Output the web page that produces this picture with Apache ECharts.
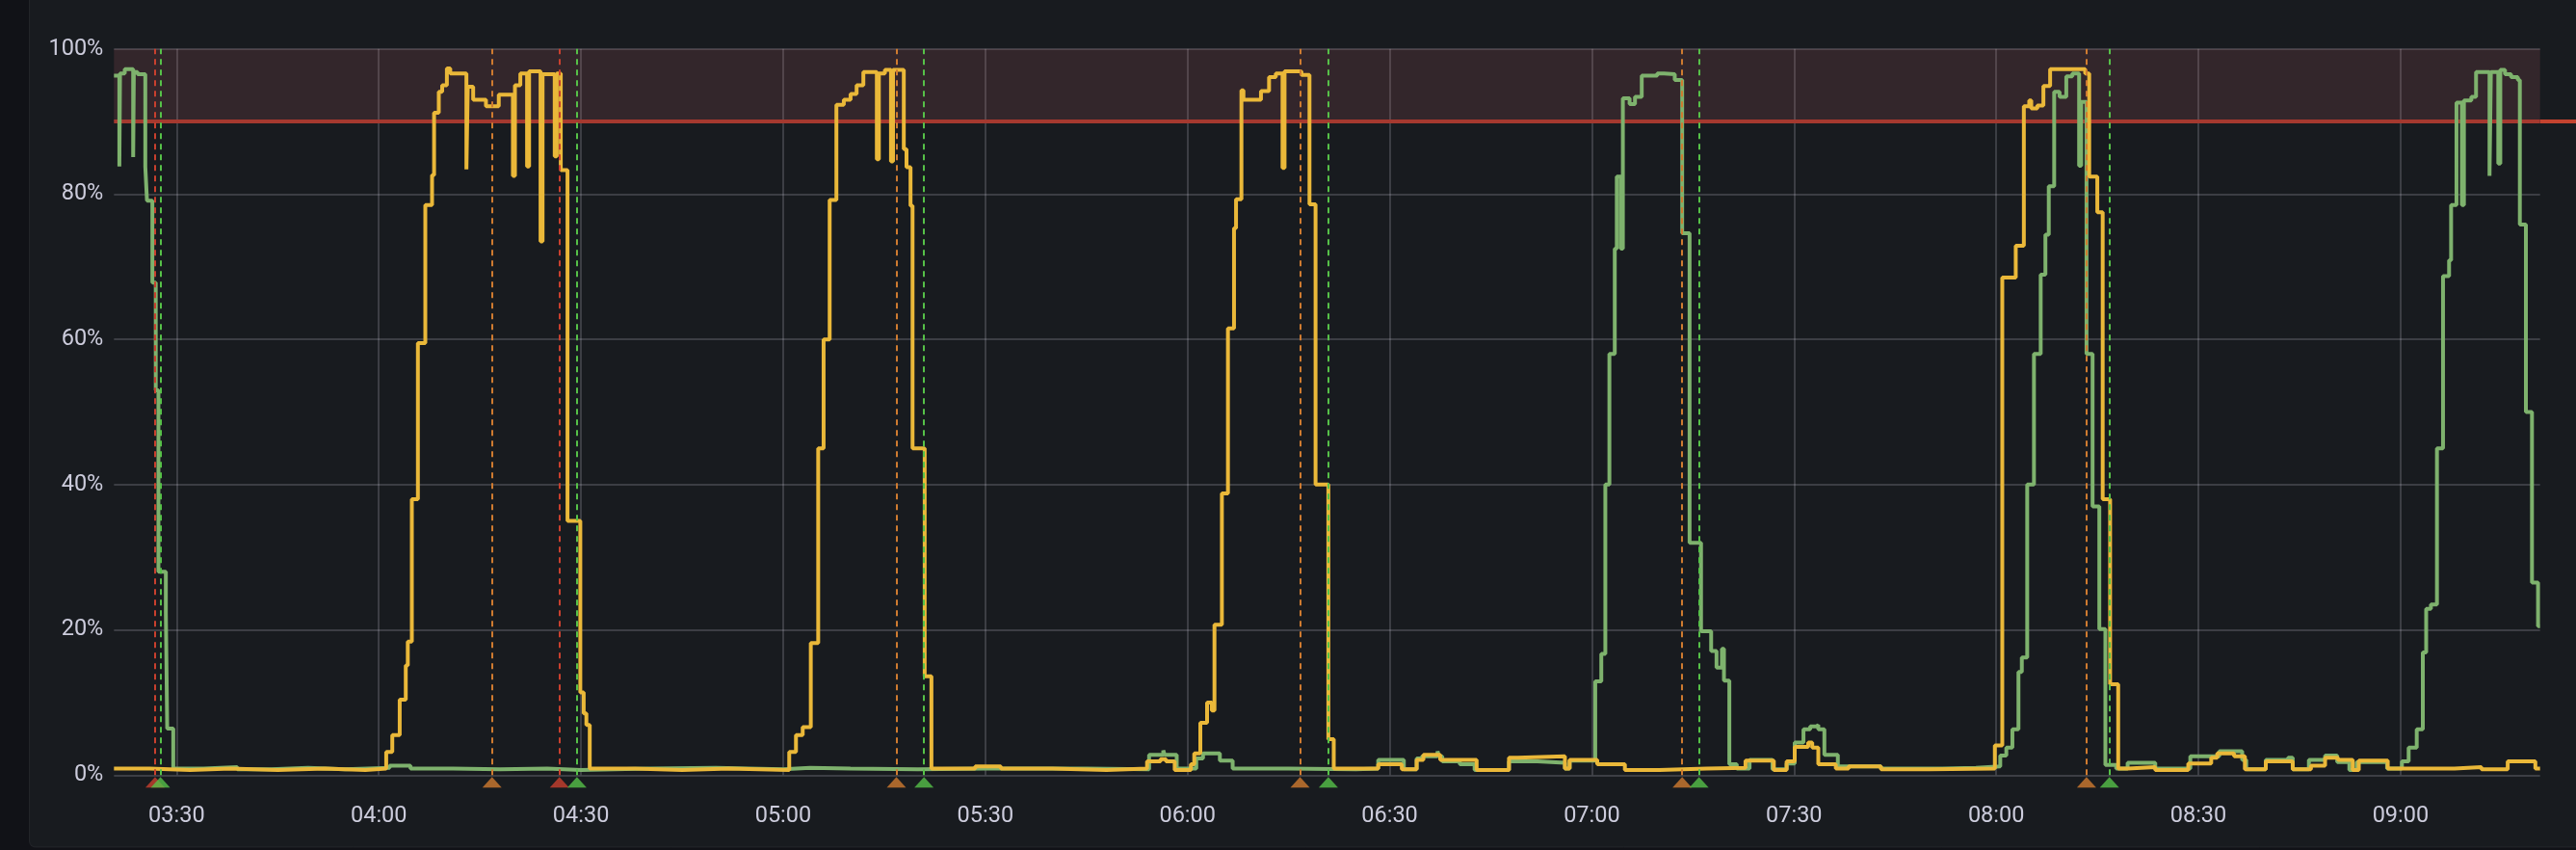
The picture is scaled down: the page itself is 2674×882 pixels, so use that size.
<!DOCTYPE html>
<html><head><meta charset="utf-8">
<script src="https://cdn.jsdelivr.net/npm/echarts@6/dist/echarts.min.js"></script>
<style>html,body{margin:0;padding:0;background:#111217;}#c{width:2674px;height:882px;}</style>
</head><body><div id="c"></div>
<script>
// ---- axis range (minutes since midnight) ----
const timeStart = 200.7;   // ~03:20:40
const timeEnd = 560.7;     // ~09:20:40
const yMin = 0, yMax = 100, yStep = 20;
const threshold = 90;

// ---- green series (staircase breakpoints) ----
const greenTimes = [200.7,201.5,201.6,202.3,203.55,203.65,204.2,205.35,205.6,206.4,206.9,207.3,208.4,208.6,209.5,
 214,219,224,229.5,235,241.6,244.7,251,258,265,270,280,290,300,304,310,320,330,345,
 354.3,356.4,356.6,358.4,361.3,362.3,364.8,366.7,375,385,
 388.3,392.1,394,394.8,397.1,397.3,397.8,400.4,402.6,407.7,411.9,416,416.7,
 420.5,421.4,422,422.6,423.4,423.7,424.3,424.6,425.6,426.4,427.4,429.7,430.7,432.3,433.4,434.5,436.2,437.7,438.5,439.3,439.6,440.4,441.5,
 443.4,446.8,448.9,450.1,451.4,452.4,453.3,453.6,454.5,456.5,462.9,472,477,
 480.6,481.5,482.4,483.3,483.8,484.6,485.6,486.6,487.3,487.8,488.6,489.4,490.4,491.3,492.3,492.6,493.4,494.3,495.3,496.2,497.8,
 499.5,503.6,508.8,513.1,516.5,517.1,520,523.3,524,526.4,528.8,530.6,532.4,533.5,538,
 540.2,541.2,542.4,543.3,543.8,544.5,545.4,546.3,547.2,547.5,548.3,549.1,549.4,550.5,551.2,553.2,553.4,554.5,554.8,555.5,556.4,557.4,557.7,558.6,559.5,560.4,560.7];
const greenValues = [96.3,83.8,96.6,97.2,85.1,96.8,96.5,83.8,79.1,67.8,53,28,22.4,6.4,0.9,
 1.1,0.8,1.0,0.8,1.0,1.3,0.9,0.8,0.9,0.7,0.9,1.0,0.8,1.0,0.9,0.8,0.9,0.9,0.8,
 2.8,3.4,2.8,0.9,2.3,3.0,2.0,0.9,0.8,0.9,
 2.1,0.8,2.3,2.6,3.3,2.6,1.9,1.5,0.7,1.9,1.7,0.9,2.0,
 12.9,16.7,40,58,72.5,82.4,72.5,93.2,92.4,93.4,96.3,96.6,96.5,95.7,74.6,32,19.8,17.1,14.8,17.4,13.0,1.5,0.9,
 2.1,0.8,1.6,4.5,6.3,6.7,6.9,6.3,2.8,1.2,0.9,1.0,1.2,
 2.7,3.8,6.3,14.2,16.2,40,58,68.9,74.4,81.1,94.1,93.4,96.2,96.6,83.9,92.7,58,37,20.1,1.4,0.9,
 1.7,0.9,2.6,3.3,2.1,0.8,2.1,2.4,0.8,2.1,2.7,1.8,0.7,1.8,0.9,
 1.9,3.8,6.3,16.9,22.9,23.5,45,68.7,70.9,78.5,92.6,78.5,92.9,93.4,96.8,82.5,96.8,84.2,97.1,96.5,96.1,95.7,75.8,50,26.5,20.5,20.5];

// ---- yellow series (staircase breakpoints) ----
const yellowTimes = [200.7,206,212,218,225,232,238,
 241.1,242,243.1,244,244.3,244.9,245.8,246.9,247.9,248.2,248.9,249.4,250.1,250.6,253,253.2,254,255.9,257.8,259.9,260.2,261,262,262.3,264,264.3,266.1,266.4,267,268,269.9,270.4,270.8,271.3,
 278,285,292,
 300.9,301.9,302.9,304.1,305.2,306,306.9,307.9,309,310,310.9,311.9,313.9,314.2,315.1,316,316.3,317.9,318.3,318.9,319.2,321,322,
 328.5,332.3,340,348,354,356,356.8,358.1,
 360.5,361,361.9,362.9,363.6,364,365.1,366,366.9,367.2,368,368.3,370.9,372.1,373.1,374.1,374.4,376.9,378.1,379,380.9,381.7,
 388.3,391.8,394,395,397.5,402.9,407.7,409,416,416.7,420.8,424.9,430,437,442.8,447,448.9,450.1,452.1,452.7,453.6,456.2,458.1,462.9,470,
 479.8,480.9,482.9,484.1,484.9,485.2,486.1,487,488,493.2,493.8,495,495.8,496.9,498.1,
 499.5,503.6,508.5,511.9,512.8,515.3,516.9,520,524,526.7,528.8,530.7,532.9,533.8,538.1,548,552,555.9,560,560.7];
const yellowValues = [0.9,0.7,0.9,0.7,0.9,0.7,0.9,
 3.2,5.5,10.4,15.1,18.4,38,59.5,78.5,82.6,91.2,94.1,95.0,97.3,96.6,83.4,94.8,93.0,92.1,93.7,82.5,95.0,96.6,83.8,96.9,73.5,96.5,85.2,96.6,83.3,35,11.4,8.5,6.9,0.9,
 0.7,0.9,0.7,
 3.2,5.5,6.6,18.2,45,60,79.2,92.3,93.0,93.8,95.0,96.8,84.8,96.6,97.1,84.5,97.1,86.2,83.7,78.4,45,13.6,0.9,
 1.2,0.9,0.7,0.9,1.9,2.2,1.9,0.7,
 1.5,3.0,7.2,10.0,8.9,20.7,38.8,61.5,75.3,79.3,94.3,93.0,94.2,96.1,96.6,83.6,96.9,96.4,78.6,40,4.95,0.9,
 1.5,0.8,2.1,2.8,2.1,0.7,2.4,2.6,0.9,2.1,1.5,0.7,0.9,1.0,2.0,0.7,1.9,3.9,4.5,3.8,1.5,0.9,1.2,0.8,0.9,
 4.1,68.5,72.9,92.1,92.9,91.8,92.2,94.9,97.2,96.6,82.4,77.5,38,12.5,0.9,
 1.1,0.7,1.6,2.4,3.0,2.6,0.8,1.9,0.8,1.3,2.4,2.1,0.7,2.0,0.9,1.1,0.8,1.9,0.9,0.9];

// ---- alert annotations (minutes since midnight) ----
const alertingTimes = [206.8, 266.8];
const pendingTimes = [256.8, 316.8, 376.7, 433.4, 493.4];
const okTimes = [207.6, 269.4, 320.9, 380.9, 435.9, 496.8];

const C = {
  bg: '#181b1f', outer: '#111217', text: '#ccccdc', grid: 'rgba(204,204,220,0.2)',
  green: '#7eb26d', yellow: '#eab839',
  red: '#c9402e', pend: '#cf7b30', ok: '#56c148',
  band: 'rgba(249,120,132,0.12)', thr: '#a5392f', thrOut: '#c4432f'
};
const pad = n => (n < 10 ? '0' : '') + n;
const zip = (ts, vs) => ts.map((t, i) => [t, vs[i]]);

const chart = echarts.init(document.getElementById('c'), null, {renderer: 'canvas'});

function annoSeries(name, times, color) {
  return {
    name, type: 'scatter', z: 6, clip: false, silent: true,
    symbol: 'triangle', symbolSize: [20, 11], symbolOffset: [0, 7.5],
    itemStyle: {color}, data: times.map(t => [t, 0]),
    markLine: {
      silent: true, symbol: 'none', label: {show: false},
      lineStyle: {color, type: [6, 5], width: 2},
      emphasis: {disabled: true},
      data: times.map(t => ({xAxis: t}))
    }
  };
}

chart.setOption({
  animation: false,
  backgroundColor: C.outer,
  textStyle: {fontFamily: 'Roboto'},
  graphic: [{
    type: 'rect', z: -100, silent: true,
    shape: {x: 30.5, y: -20, width: 2700, height: 899, r: 6},
    style: {fill: C.bg, stroke: 'rgba(204,204,220,0.08)', lineWidth: 1}
  }],
  grid: {left: 118.3, right: 37.3, top: 50.7, bottom: 77.7, containLabel: false},
  xAxis: {
    type: 'value', min: timeStart, max: timeEnd, splitNumber: 12,
    axisLine: {show: false}, axisTick: {show: false},
    axisLabel: {
      color: C.text, fontSize: 23.5, fontFamily: 'Roboto', margin: 31,
      formatter: v => {
        const r = Math.round(v);
        if (Math.abs(v - r) > 0.01 || r % 30 !== 0) return '';
        return pad(Math.floor(r / 60)) + ':' + pad(r % 60);
      }
    },
    splitLine: {show: true, showMinLine: false, showMaxLine: false, lineStyle: {color: C.grid, width: 2}}
  },
  yAxis: {
    type: 'value', min: yMin, max: yMax, interval: yStep,
    axisLine: {show: false}, axisTick: {show: false},
    axisLabel: {color: C.text, fontSize: 23.5, fontFamily: 'Roboto', margin: 11, formatter: '{value}%'},
    splitLine: {show: true, lineStyle: {color: C.grid, width: 2}}
  },
  series: [
    {
      name: 'green', type: 'line', step: 'end', showSymbol: false, z: 3,
      lineStyle: {color: C.green, width: 4}, itemStyle: {color: C.green},
      data: zip(greenTimes, greenValues),
      markArea: {silent: true, itemStyle: {color: C.band}, data: [[{yAxis: threshold}, {yAxis: yMax}]]},
      markLine: {silent: true, symbol: 'none', label: {show: false}, z: 1,
        lineStyle: {color: C.thr, width: 4, type: 'solid'}, data: [{yAxis: threshold}]}
    },
    {
      name: 'yellow', type: 'line', step: 'end', showSymbol: false, z: 4,
      lineStyle: {color: C.yellow, width: 4}, itemStyle: {color: C.yellow},
      data: zip(yellowTimes, yellowValues)
    },
    annoSeries('alerting', alertingTimes, C.red),
    annoSeries('pending', pendingTimes, C.pend),
    annoSeries('ok', okTimes, C.ok)
  ]
});

// extend threshold line to the panel edge, as in the reference
const ty = chart.convertToPixel({yAxisIndex: 0}, threshold);
const tx = chart.convertToPixel({xAxisIndex: 0}, timeEnd);
chart.setOption({graphic: [{}, {
  type: 'rect', silent: true, z: 1,
  shape: {x: tx, y: ty - 2, width: 2674 - tx, height: 4},
  style: {fill: C.thrOut}
}]});
</script></body></html>
